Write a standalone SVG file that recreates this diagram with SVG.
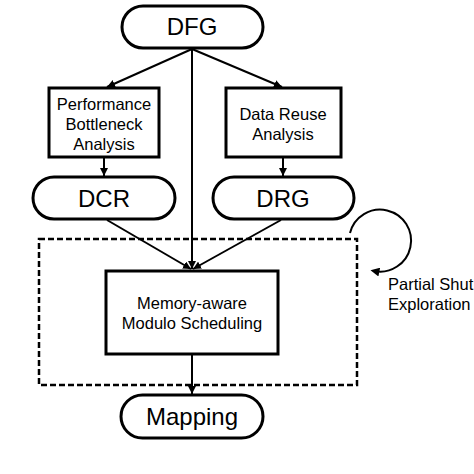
<svg xmlns="http://www.w3.org/2000/svg" width="474" height="474" viewBox="0 0 474 474">
<style>
.pill{fill:#fff;stroke:#000;stroke-width:3}
.box{fill:#fff;stroke:#000;stroke-width:3}
.big{font-family:"Liberation Sans",Arial,sans-serif;font-size:24px;text-anchor:middle;fill:#000}
.sm{font-family:"Liberation Sans",Arial,sans-serif;font-size:16.5px;text-anchor:middle;fill:#000}
.lbl{font-family:"Liberation Sans",Arial,sans-serif;font-size:16.5px;fill:#000}
.ln{stroke:#000;stroke-width:2;fill:none}
</style>
<defs>
<marker id="ah" viewBox="0 0 10 10" refX="10" refY="5" markerWidth="4" markerHeight="4" orient="auto" markerUnits="strokeWidth">
<path d="M0,0L10,5L0,10z" fill="#000"/>
</marker>
<marker id="ah2" viewBox="0 0 10 10" refX="6" refY="5" markerWidth="4.5" markerHeight="4.5" orient="auto" markerUnits="strokeWidth">
<path d="M0,0L10,5L0,10z" fill="#000"/>
</marker>
</defs>
<rect x="39" y="239" width="318" height="146" fill="none" stroke="#000" stroke-width="2.5" stroke-dasharray="6,3"/>
<g id="connectors">
<line class="ln" x1="192" y1="49" x2="107" y2="87" marker-end="url(#ah)"/>
<line class="ln" x1="192" y1="49" x2="282" y2="87" marker-end="url(#ah)"/>
<line class="ln" x1="192" y1="49" x2="192" y2="269" marker-end="url(#ah)"/>
<line class="ln" x1="104" y1="158" x2="104" y2="176" marker-end="url(#ah)"/>
<line class="ln" x1="283" y1="158" x2="283" y2="176" marker-end="url(#ah)"/>
<line class="ln" x1="107" y1="220" x2="191" y2="269" marker-end="url(#ah)"/>
<line class="ln" x1="281" y1="220" x2="193" y2="269" marker-end="url(#ah)"/>
<line class="ln" x1="192" y1="355" x2="192" y2="394" marker-end="url(#ah)"/>
<path class="ln" stroke-width="3" d="M350,233 A31,31 0 1 1 374,271" marker-end="url(#ah2)"/>
</g>
<g id="dfg"><rect class="pill" x="122" y="6" width="141" height="42" rx="21"/><text class="big" x="192" y="35">DFG</text></g>
<g id="perf"><rect class="box" x="49" y="88" width="110" height="69"/>
<text class="sm" x="104" y="110">Performance</text><text class="sm" x="104" y="130">Bottleneck</text><text class="sm" x="104" y="150">Analysis</text></g>
<g id="reuse"><rect class="box" x="226" y="88" width="115" height="69"/>
<text class="sm" x="283" y="120">Data Reuse</text><text class="sm" x="283" y="140">Analysis</text></g>
<g id="dcr"><rect class="pill" x="33" y="177" width="142" height="42" rx="21"/><text class="big" x="104" y="207">DCR</text></g>
<g id="drg"><rect class="pill" x="213" y="177" width="141" height="42" rx="21"/><text class="big" x="283" y="207">DRG</text></g>
<g id="mem"><rect class="box" x="106" y="271" width="172" height="83"/>
<text class="sm" x="192" y="309">Memory-aware</text><text class="sm" x="192" y="329">Modulo Scheduling</text></g>
<g id="mapping"><rect class="pill" x="121" y="395" width="142" height="43" rx="21.5"/><text class="big" x="192" y="425">Mapping</text></g>
<g id="pse"><text class="lbl" x="388" y="290">Partial Shut</text><text class="lbl" x="388" y="310">Exploration</text></g>
</svg>
